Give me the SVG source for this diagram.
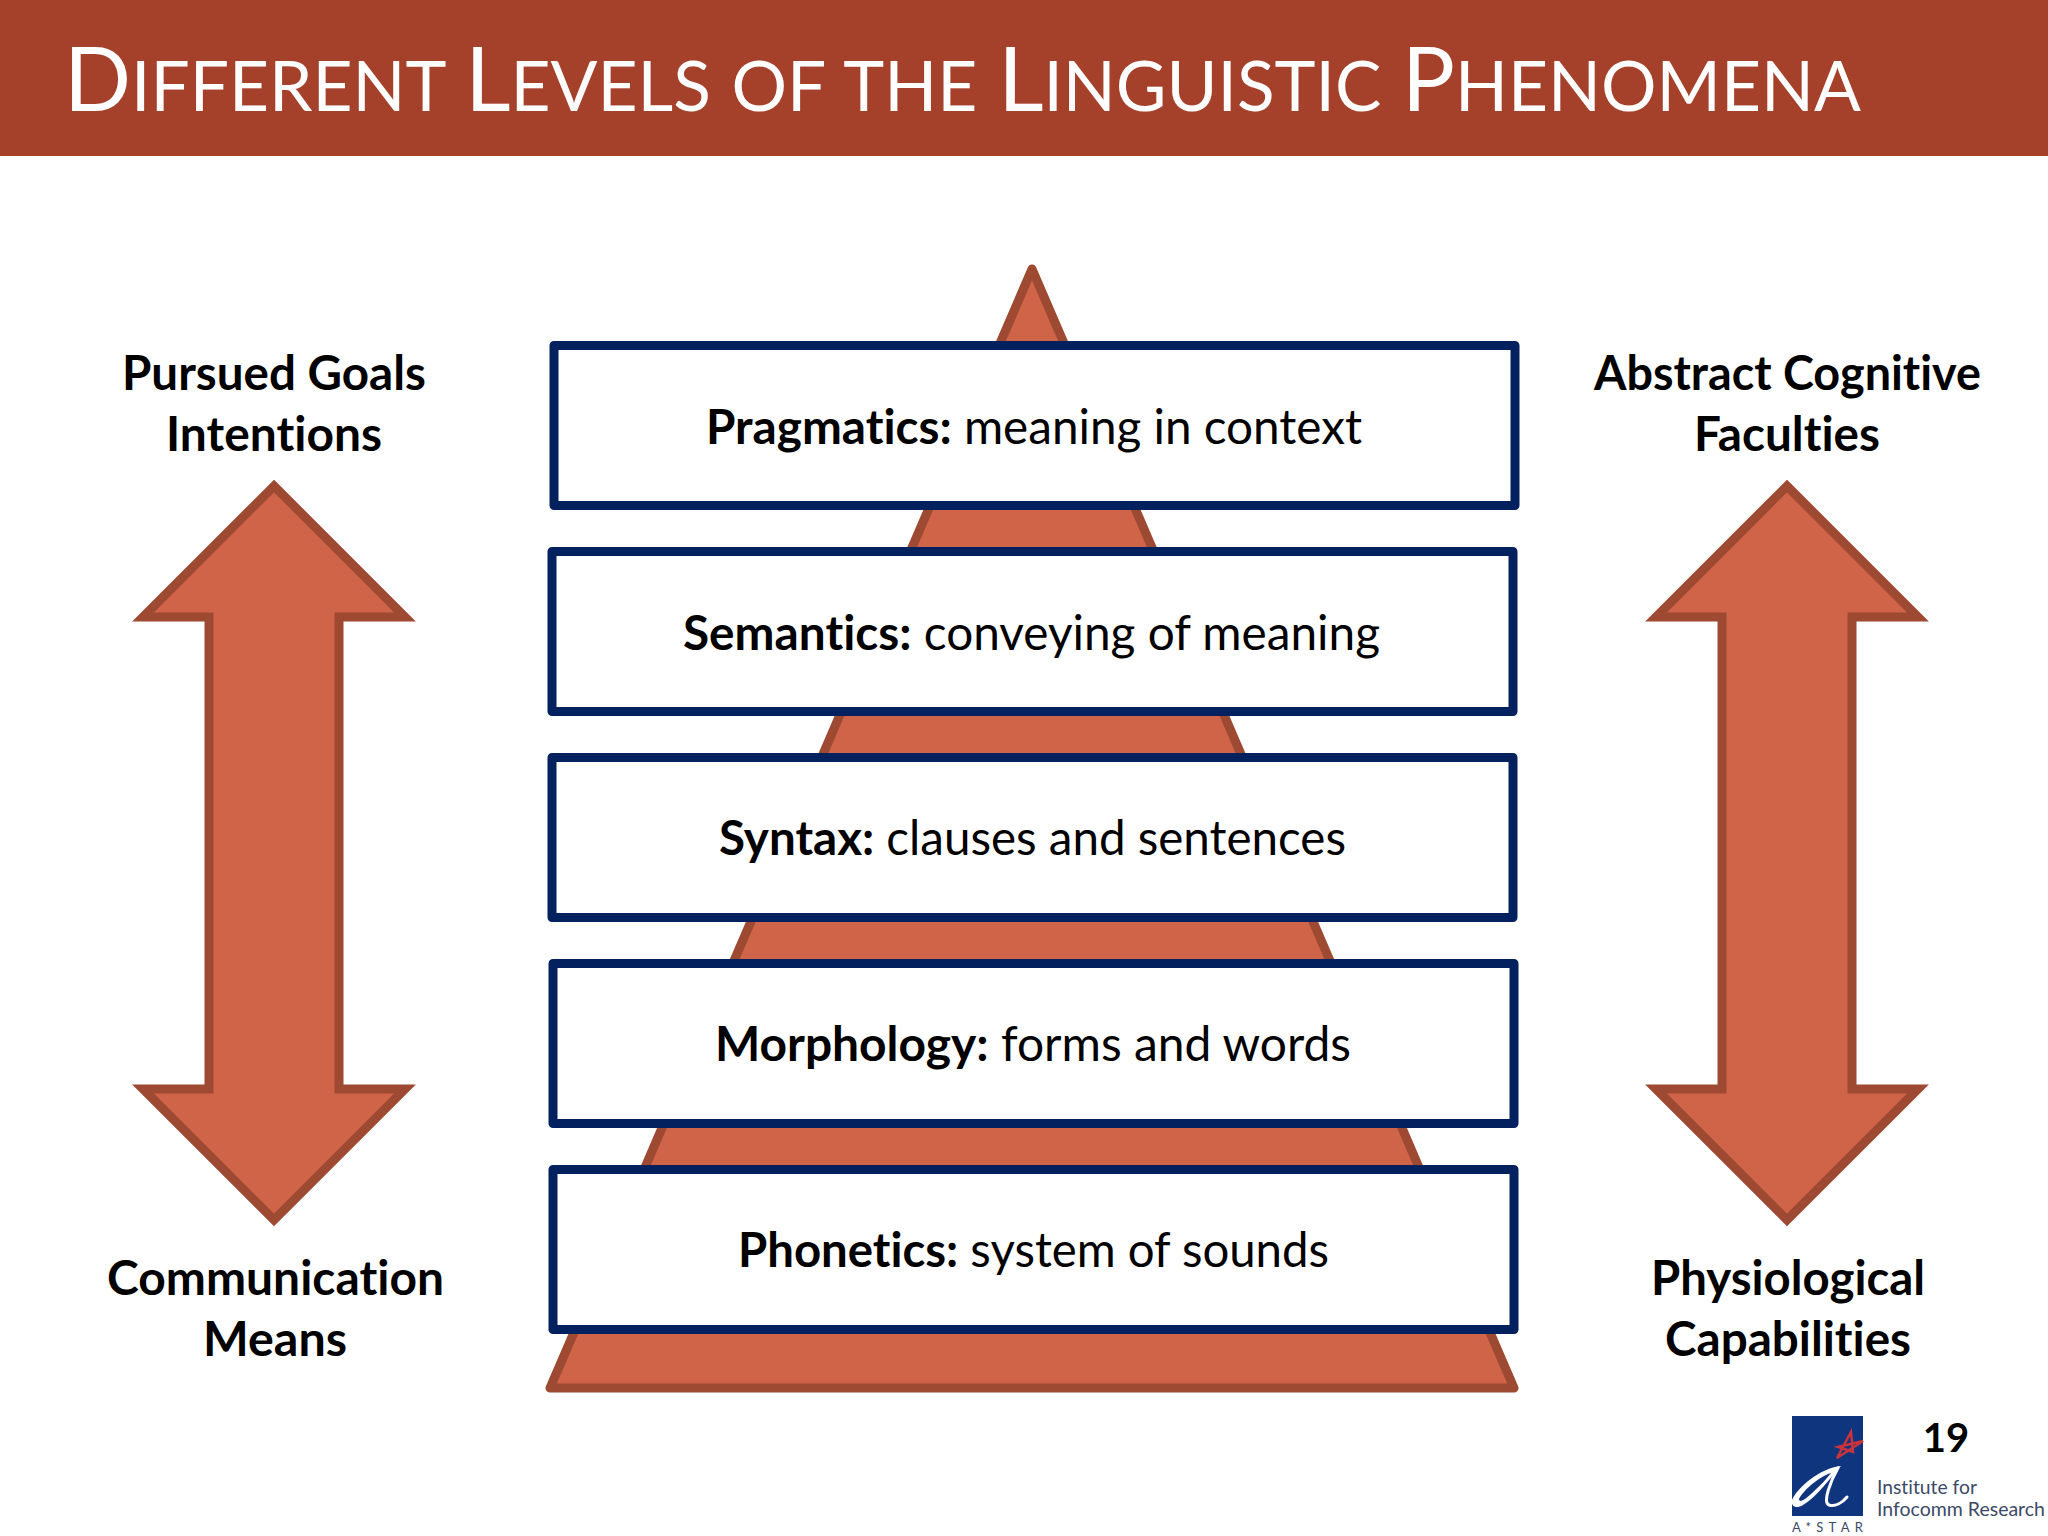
<svg xmlns="http://www.w3.org/2000/svg" width="2048" height="1536" viewBox="0 0 2048 1536">
<style>
text{font-family:"Lato","Noto Sans","Liberation Sans",sans-serif;fill:#000;font-variant-ligatures:none}
.t{font-size:70px;fill:#fff;word-spacing:3px}
.c{font-size:89px}
.box{fill:#fff;stroke:#04215f;stroke-width:9;stroke-linejoin:round}
.ar{fill:#cf6449;stroke:#9e4931;stroke-width:9;stroke-linejoin:miter;stroke-miterlimit:10}
.py{fill:#cf6449;stroke:#9e4931;stroke-width:9;stroke-linejoin:round}
.l{font-size:48px}
.s{font-size:47px;font-weight:700}
.b{font-weight:700}
.f{fill:#3c4a68}
</style>
<defs>
<polygon id="dbl" class="ar" points="0,486 131,617 65,617 65,1089 131,1089 0,1220 -131,1089 -65,1089 -65,617 -131,617"/>
</defs>
<rect width="2048" height="1536" fill="#fff"/>
<g id="title-band">
<rect width="2048" height="156" fill="#a5412a"/>
<text class="t" x="64" y="111" textLength="1797" lengthAdjust="spacingAndGlyphs"><tspan class="c">D</tspan>IFFERENT <tspan class="c">L</tspan>EVELS OF THE <tspan class="c">L</tspan>INGUISTIC <tspan class="c">P</tspan>HENOMENA</text>
</g>
<g id="pyramid"><polygon class="py" points="1032,269 1514,1388 550,1388"/></g>
<g id="arrow-left"><use href="#dbl" x="274"/></g>
<g id="arrow-right"><use href="#dbl" x="1787"/></g>
<g id="pragmatics"><rect class="box" x="554" y="345.5" width="961" height="160"/>
<text class="l" x="706" y="444" textLength="656" lengthAdjust="spacingAndGlyphs"><tspan class="b">Pragmatics:</tspan> meaning in context</text></g>
<g id="semantics"><rect class="box" x="552" y="551.5" width="961" height="160"/>
<text class="l" x="683" y="650" textLength="697" lengthAdjust="spacingAndGlyphs"><tspan class="b">Semantics:</tspan> conveying of meaning</text></g>
<g id="syntax"><rect class="box" x="552" y="757.5" width="961" height="160"/>
<text class="l" x="719" y="855" textLength="627" lengthAdjust="spacingAndGlyphs"><tspan class="b">Syntax:</tspan> clauses and sentences</text></g>
<g id="morphology"><rect class="box" x="553" y="963.5" width="961" height="160"/>
<text class="l" x="715" y="1061" textLength="636" lengthAdjust="spacingAndGlyphs"><tspan class="b">Morphology:</tspan> forms and words</text></g>
<g id="phonetics"><rect class="box" x="553" y="1169.5" width="961" height="160"/>
<text class="l" x="738" y="1267" textLength="591" lengthAdjust="spacingAndGlyphs"><tspan class="b">Phonetics:</tspan> system of sounds</text></g>
<g id="label-goals"><text class="s" x="122" y="390" textLength="304" lengthAdjust="spacingAndGlyphs">Pursued Goals</text><text class="s" x="166" y="451" textLength="216" lengthAdjust="spacingAndGlyphs">Intentions</text></g>
<g id="label-means"><text class="s" x="107" y="1295" textLength="337" lengthAdjust="spacingAndGlyphs">Communication</text><text class="s" x="203" y="1356" textLength="144" lengthAdjust="spacingAndGlyphs">Means</text></g>
<g id="label-cognitive"><text class="s" x="1594" y="390" textLength="387" lengthAdjust="spacingAndGlyphs">Abstract Cognitive</text><text class="s" x="1694" y="451" textLength="186" lengthAdjust="spacingAndGlyphs">Faculties</text></g>
<g id="label-physio"><text class="s" x="1651" y="1295" textLength="274" lengthAdjust="spacingAndGlyphs">Physiological</text><text class="s" x="1665" y="1356" textLength="246" lengthAdjust="spacingAndGlyphs">Capabilities</text></g>
<g id="footer">
<text x="1946" y="1452" font-size="40" font-weight="700" text-anchor="middle">19</text>
<rect x="1792" y="1416" width="71" height="100" fill="#10357f"/>
<path d="M1837 1458L1851 1432L1853 1452L1838 1447L1863 1441Z" fill="none" stroke="#c8333c" stroke-width="2.5"/>
<path fill-rule="evenodd" d="M1841 1466C1820 1468 1797 1488 1792 1500C1791 1507 1796 1509 1803 1505C1817 1497 1830 1478 1841 1466ZM1831 1473C1818 1477 1803 1491 1799 1499C1799 1502 1802 1501 1805 1499C1815 1491 1825 1481 1831 1473Z" fill="#fff"/>
<path d="M1838 1468C1831 1480 1822 1503 1829 1505C1835 1507 1842 1503 1847 1497" fill="none" stroke="#fff" stroke-width="3" stroke-linecap="round"/>
<text class="f" x="1877" y="1494" font-size="20" textLength="100" lengthAdjust="spacingAndGlyphs">Institute for</text>
<text class="f" x="1877" y="1516" font-size="20" textLength="168" lengthAdjust="spacingAndGlyphs">Infocomm Research</text>
<text class="f" x="1792" y="1532" font-size="13" textLength="71" lengthAdjust="spacing">A*STAR</text>
</g>
</svg>
